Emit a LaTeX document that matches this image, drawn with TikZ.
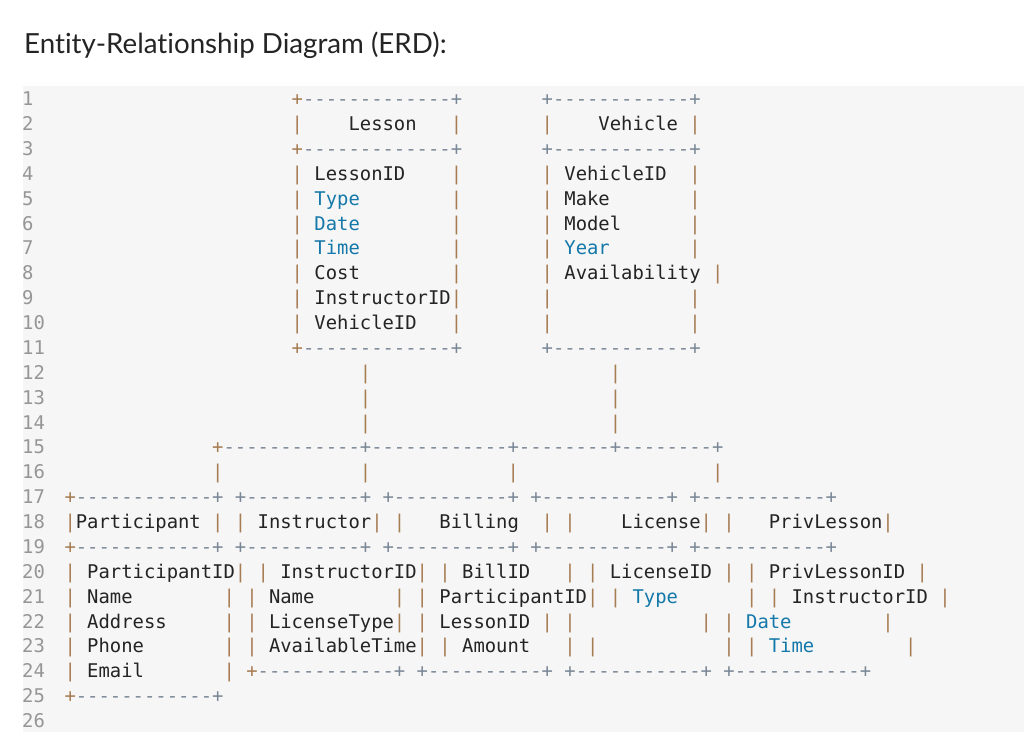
\documentclass[tikz,border=0pt]{standalone}
\usepackage{fontspec}
\setmonofont{DejaVu Sans Mono}
\newfontfamily\titlef{Lato}[Ligatures={NoCommon}]
\definecolor{cbar}{RGB}{166,124,82}
\definecolor{cdash}{RGB}{122,135,150}
\definecolor{cblue}{RGB}{20,120,170}
\definecolor{ctext}{RGB}{36,36,36}
\definecolor{cnum}{RGB}{150,150,150}
\definecolor{cbg}{RGB}{246,246,246}
\newcommand\xV{\textcolor{cbar}{|}}
\newcommand\xPb{\textcolor{cbar}{+}}
\newcommand\xPg{\textcolor{cdash}{+}}
\newcommand\xD[1]{\textcolor{cdash}{#1}}
\newcommand\xB[1]{\textcolor{cblue}{#1}}
\newcommand\xS[1]{\kern#1\fontcharwd\font`0\relax}
\tikzset{
  code/.style={font=\ttfamily\fontsize{18.87}{24.88}\selectfont, text=ctext, inner sep=0pt, anchor=base west},
  lnum/.style={font=\ttfamily\fontsize{18.87}{24.88}\selectfont, text=cnum, inner sep=0pt, anchor=base west},
  ttl/.style={font=\titlef\fontsize{27.7}{33}\selectfont, text=ctext, inner sep=0pt, anchor=base west}
}
\begin{document}
\begin{tikzpicture}[x=1pt,y=-1pt]
\useasboundingbox (0,0) rectangle (1024,746);
\fill[white] (0,0) rectangle (1024,746);
\fill[cbg] (23,86) rectangle (1024,732);
\node[ttl] (title) at (24,53.5) {Entity-Relationship Diagram (ERD):};
\foreach \i in {1,...,26} \node[lnum] (n\i) at (22,{105.6+(\i-1)*24.88}) {\i};
\def\LB{\xS{20}\xPb\xD{-------------}\xPg\xS{7}\xPg\xD{------------}\xPg}
\def\LR{\xPb\xD{------------}\xPg\xS{1}\xPg\xD{----------}\xPg\xS{1}\xPg\xD{----------}\xPg\xS{1}\xPg\xD{-----------}\xPg\xS{1}\xPg\xD{-----------}\xPg}
\node[code] (l1) at (64.32,105.6) {\LB};
\node[code] (l2) at (64.32,130.48) {\xS{20}\xV\xS{4}Lesson\xS{3}\xV\xS{7}\xV\xS{4}Vehicle\xS{1}\xV};
\node[code] (l3) at (64.32,155.36) {\LB};
\node[code] (l4) at (64.32,180.24) {\xS{20}\xV\xS{1}LessonID\xS{4}\xV\xS{7}\xV\xS{1}VehicleID\xS{2}\xV};
\node[code] (l5) at (64.32,205.12) {\xS{20}\xV\xS{1}\xB{Type}\xS{8}\xV\xS{7}\xV\xS{1}Make\xS{7}\xV};
\node[code] (l6) at (64.32,230.00) {\xS{20}\xV\xS{1}\xB{Date}\xS{8}\xV\xS{7}\xV\xS{1}Model\xS{6}\xV};
\node[code] (l7) at (64.32,254.88) {\xS{20}\xV\xS{1}\xB{Time}\xS{8}\xV\xS{7}\xV\xS{1}\xB{Year}\xS{7}\xV};
\node[code] (l8) at (64.32,279.76) {\xS{20}\xV\xS{1}Cost\xS{8}\xV\xS{7}\xV\xS{1}Availability\xS{1}\xV};
\node[code] (l9) at (64.32,304.64) {\xS{20}\xV\xS{1}InstructorID\xV\xS{7}\xV\xS{12}\xV};
\node[code] (l10) at (64.32,329.52) {\xS{20}\xV\xS{1}VehicleID\xS{3}\xV\xS{7}\xV\xS{12}\xV};
\node[code] (l11) at (64.32,354.40) {\LB};
\node[code] (l12) at (64.32,379.28) {\xS{26}\xV\xS{21}\xV};
\node[code] (l13) at (64.32,404.16) {\xS{26}\xV\xS{21}\xV};
\node[code] (l14) at (64.32,429.04) {\xS{26}\xV\xS{21}\xV};
\node[code] (l15) at (64.32,453.92) {\xS{13}\xPb\xD{------------}\xPg\xD{------------}\xPg\xD{--------}\xPg\xD{--------}\xPg};
\node[code] (l16) at (64.32,478.80) {\xS{13}\xV\xS{12}\xV\xS{12}\xV\xS{17}\xV};
\node[code] (l17) at (64.32,503.68) {\LR};
\node[code] (l18) at (64.32,528.56) {\xV{}Participant\xS{1}\xV\xS{1}\xV\xS{1}Instructor\xV\xS{1}\xV\xS{3}Billing\xS{2}\xV\xS{1}\xV\xS{4}License\xV\xS{1}\xV\xS{3}PrivLesson\xV};
\node[code] (l19) at (64.32,553.44) {\LR};
\node[code] (l20) at (64.32,578.32) {\xV\xS{1}ParticipantID\xV\xS{1}\xV\xS{1}InstructorID\xV\xS{1}\xV\xS{1}BillID\xS{3}\xV\xS{1}\xV\xS{1}LicenseID\xS{1}\xV\xS{1}\xV\xS{1}PrivLessonID\xS{1}\xV};
\node[code] (l21) at (64.32,603.20) {\xV\xS{1}Name\xS{8}\xV\xS{1}\xV\xS{1}Name\xS{7}\xV\xS{1}\xV\xS{1}ParticipantID\xV\xS{1}\xV\xS{1}\xB{Type}\xS{6}\xV\xS{1}\xV\xS{1}InstructorID\xS{1}\xV};
\node[code] (l22) at (64.32,628.08) {\xV\xS{1}Address\xS{5}\xV\xS{1}\xV\xS{1}LicenseType\xV\xS{1}\xV\xS{1}LessonID\xS{1}\xV\xS{1}\xV\xS{11}\xV\xS{1}\xV\xS{1}\xB{Date}\xS{8}\xV};
\node[code] (l23) at (64.32,652.96) {\xV\xS{1}Phone\xS{7}\xV\xS{1}\xV\xS{1}AvailableTime\xV\xS{1}\xV\xS{1}Amount\xS{3}\xV\xS{1}\xV\xS{11}\xV\xS{1}\xV\xS{1}\xB{Time}\xS{8}\xV};
\node[code] (l24) at (64.32,677.84) {\xV\xS{1}Email\xS{7}\xV\xS{1}\xPb\xD{------------}\xPg\xS{1}\xPg\xD{----------}\xPg\xS{1}\xPg\xD{-----------}\xPg\xS{1}\xPg\xD{-----------}\xPg};
\node[code] (l25) at (64.32,702.72) {\xPb\xD{------------}\xPg};
\end{tikzpicture}
\end{document}
